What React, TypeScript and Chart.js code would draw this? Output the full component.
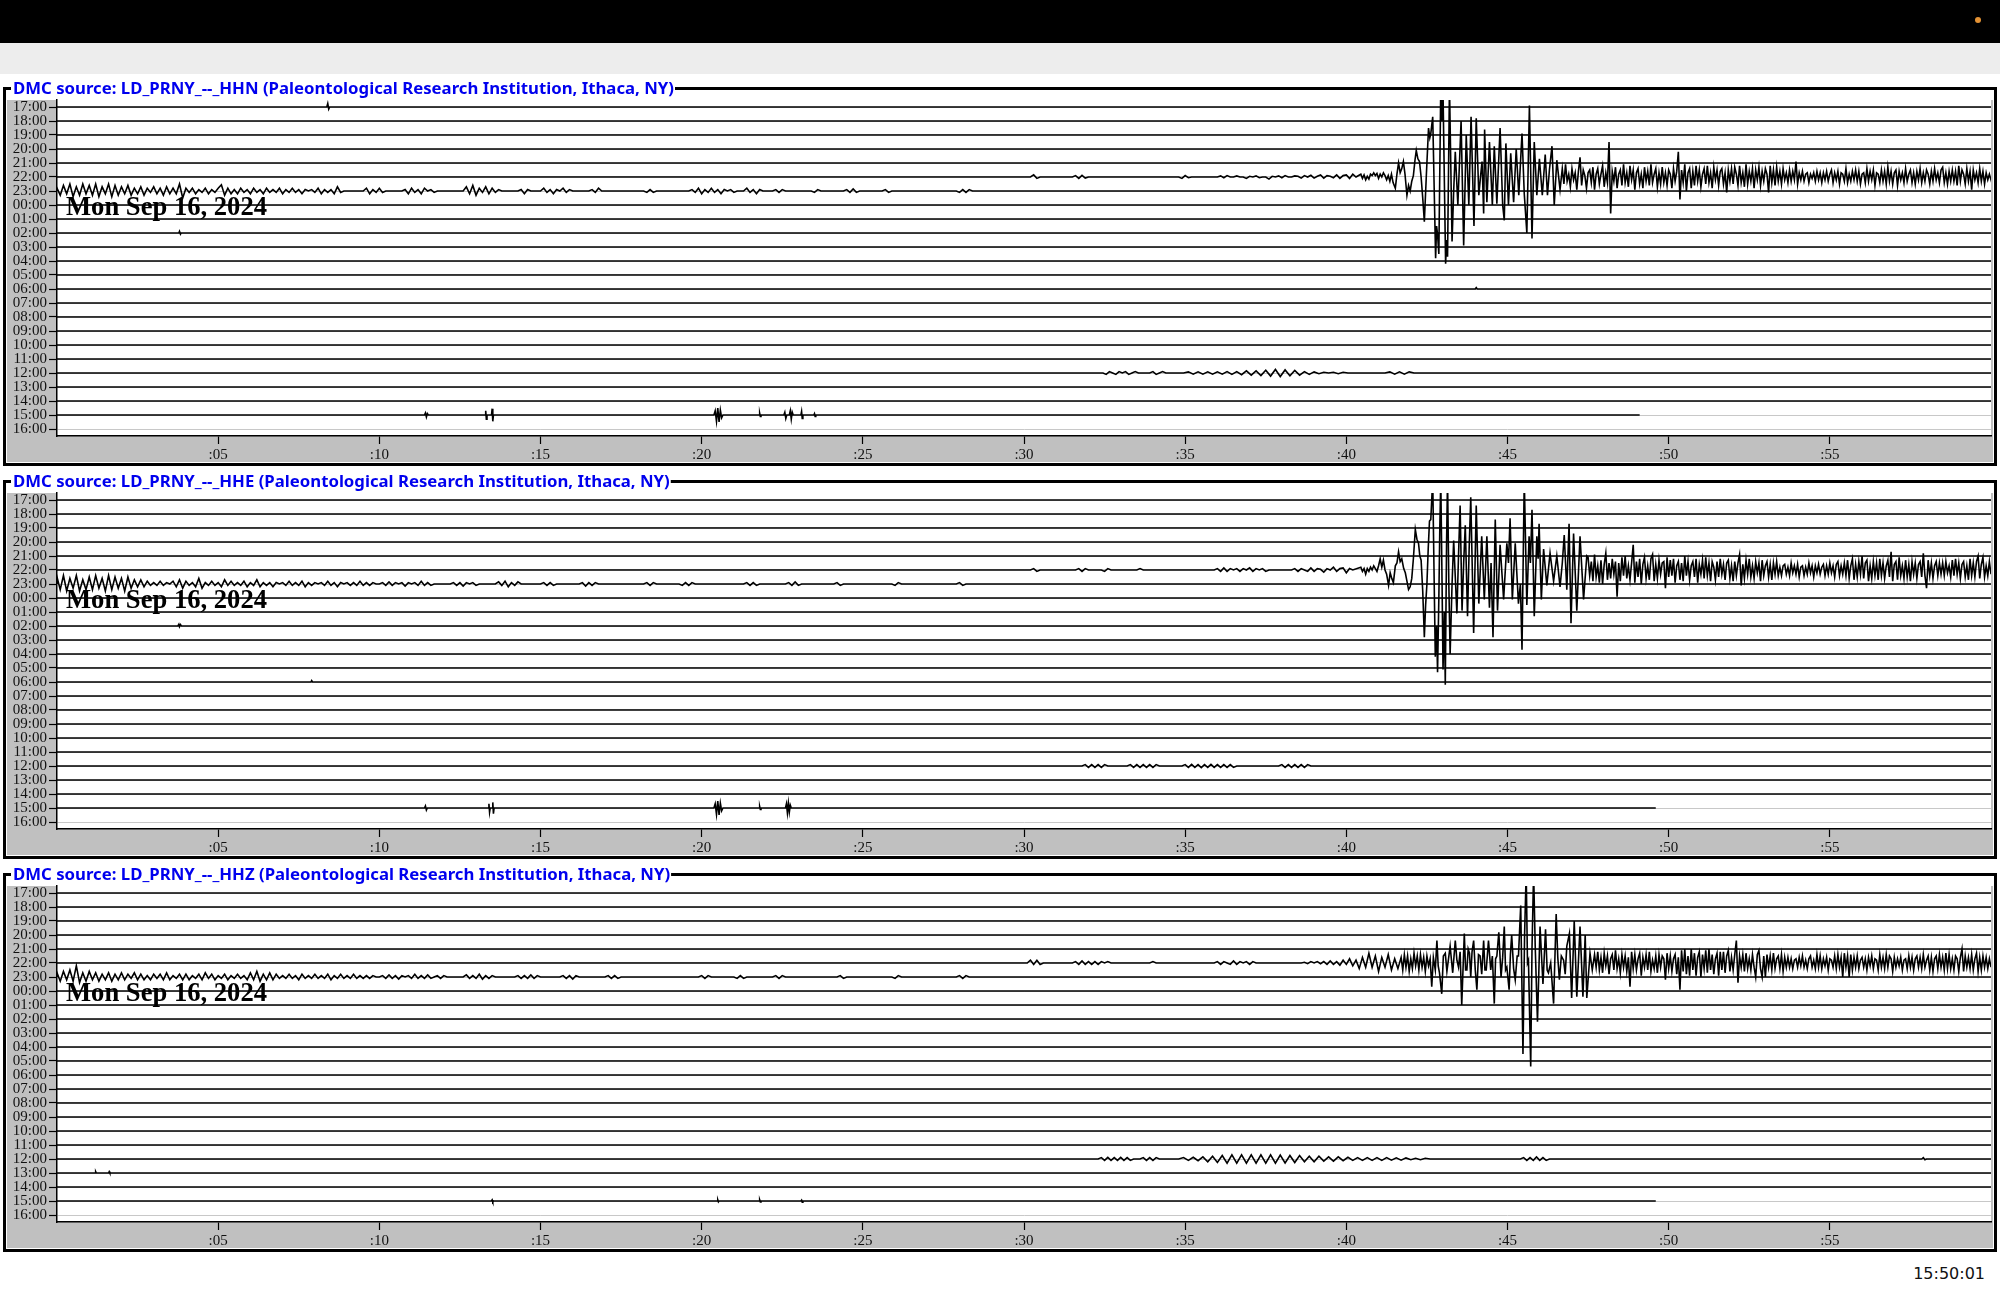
import React, { useEffect, useRef } from 'react';
import { Chart, registerables } from 'chart.js';

Chart.register(...registerables);

type Seg = { t0: number; dt?: number; v: number[] };
type Pair = [number, number];

// ---------- labels ----------
const HOUR_LABELS = ['17:00', '18:00', '19:00', '20:00', '21:00', '22:00', '23:00', '00:00', '01:00', '02:00', '03:00', '04:00',
  '05:00', '06:00', '07:00', '08:00', '09:00', '10:00', '11:00', '12:00', '13:00', '14:00', '15:00', '16:00'];
const MINUTE_TICKS = [5, 10, 15, 20, 25, 30, 35, 40, 45, 50, 55];
const CHANNELS = ['HHN', 'HHE', 'HHZ'];
const STATION = 'LD_PRNY_--_';
const SITE = 'Paleontological Research Institution, Ithaca, NY';
const DATE_TEXT = 'Mon Sep 16, 2024';
const CLOCK_TEXT = '15:50:01';
const LAST_ROW_END = [49.1, 49.6, 49.6]; // minute where the 15:00 trace stops
const NO_DATA_ROW = 23; // 16:00 row holds no data yet
const CODA_DT = 0.05;

// ---------- HHN ----------
const HHN_R23_NOISE: number[] = [0.2, -0.3, 0.4, -0.2, 0.5, -0.4, 0.3, -0.3, 0.5, -0.2,
  0.4, -0.3, 0.5, -0.4, 0.3, -0.2, 0.5, -0.4, 0.4, -0.3,
  0.3, -0.2, 0.4, -0.3, 0.2, -0.2, 0.3, -0.3, 0.2, -0.1,
  0.3, -0.2, 0.2, -0.3, 0.3, -0.2, 0.2, -0.2, 0.5, -0.5,
  0.2, -0.1, 0.2, -0.2, 0.1, -0.1, 0.2, -0.2, 0.1, -0.1,
  0.2, 0.45, -0.3, 0.2, -0.2, 0.1, -0.2, 0.2, -0.1, 0.1,
  -0.2, 0.2, -0.1, 0.1, -0.2, 0.2, -0.1, 0.1, -0.1, 0.2,
  -0.2, 0.1, -0.1, 0.2, -0.1, 0.1, -0.2, 0.1, 0, 0.1,
  -0.1, 0.2, -0.2, 0.1, -0.1, 0.1, -0.2, 0.3, -0.1, 0];
const HHN_R23_CLUSTERS: Seg[] = [
  { t0: 9.5, v: [0, 0.2, -0.2, 0.1, -0.1, 0.2, -0.1, 0] },
  { t0: 10.7, v: [0, 0.1, -0.2, 0.2, -0.1, 0.1, -0.2, 0.2, 0, 0.1, -0.1, 0] },
  { t0: 12.6, v: [0, 0.3, -0.2, 0.4, -0.3, 0.2, -0.1, 0.3, -0.2, 0.2, -0.1, 0.1, 0] },
  { t0: 14.3, v: [0, 0.1, -0.2, 0.1, 0] },
  { t0: 15.0, v: [0, 0.2, -0.1, 0.1, -0.2, 0.1, 0, 0.2, -0.1, 0.1, 0] },
  { t0: 16.5, v: [0, 0.1, -0.1, 0.2, 0] },
  { t0: 18.2, v: [0, -0.1, 0.1, -0.1, 0] },
  { t0: 19.6, v: [0, 0.1, -0.1, 0.2, -0.2, 0.1, -0.1, 0.2, -0.1, 0.1, -0.2, 0.1, 0, 0.1, -0.1, 0] },
  { t0: 21.3, v: [0, 0.2, -0.1, 0.1, -0.2, 0.1, 0] },
  { t0: 22.2, v: [0, 0.1, -0.1, 0.1, 0] },
  { t0: 23.4, v: [0, -0.1, 0.1, 0] },
  { t0: 24.4, v: [0, 0.1, -0.1, 0.15, -0.1, 0] },
  { t0: 25.6, v: [0, 0.1, -0.1, 0] },
  { t0: 27.9, v: [0, -0.1, 0.1, -0.1, 0.1, 0] },
];
const HHN_R22_PRE: Seg[] = [
  { t0: 30.2, v: [0, 0.15, -0.1, 0] },
  { t0: 31.5, v: [0, 0.1, -0.1, 0.12, -0.08, 0] },
  { t0: 34.8, v: [0, -0.1, 0.1, -0.05, 0] },
  { t0: 36.0, v: [0, 0.08, -0.05, 0.1, 0, 0, 0.08, 0, 0, -0.1, 0.05, 0, 0.08, -0.05, 0, 0, -0.15, 0.05, 0, 0.08, -0.05, 0.1, 0,
    0, 0.08, 0.05, -0.08, 0.1, 0, 0.12, -0.08, 0.05, 0.15, -0.08, 0.1, 0.05, -0.05, 0.15, -0.1, 0.1, 0.15, -0.1, 0.2, 0] },
];
const HHN_R22_QUAKE: Pair[] = [[40.45, 0.2], [40.5, -0.1], [40.55, 0.15], [40.6, -0.2], [40.65, 0.05], [40.7, -0.15], [40.75, 0.2],
  [40.8, 0.1], [40.85, 0.3], [40.9, 0.1], [40.95, 0.25], [41.0, -0.1], [41.05, 0.2], [41.1, 0], [41.15, 0.3], [41.2, 0.1],
  [41.25, -0.2], [41.3, 0.1], [41.35, -0.3], [41.4, 0.2], [41.45, -0.4], [41.52, -0.8], [41.57, 0.2], [41.62, 1.0], [41.67, 0.3],
  [41.72, 0.6], [41.77, 1.1], [41.82, 0.2], [41.88, -1.3], [41.93, -0.6], [41.98, -1.0], [42.03, -0.3], [42.08, 0.1], [42.13, 1.2],
  [42.17, 1.9], [42.22, 1.3], [42.27, 1.1], [42.32, 0], [42.37, -1.5], [42.42, -3.2], [42.48, 0], [42.55, 3.5], [42.59, 2.8],
  [42.62, 3.1], [42.68, 4.3], [42.77, -5.8], [42.8, -3.5], [42.83, -4.1], [42.87, -5.5], [42.93, 6.5], [42.96, 4.0], [43.0, 6.0],
  [43.08, -6.2], [43.11, -4.5], [43.14, -5.7], [43.2, 6.5], [43.28, -4.6], [43.33, -1.0], [43.38, 1.8], [43.46, -2.0], [43.56, 4.0],
  [43.64, -4.9], [43.72, 3.0], [43.8, -2.0], [43.87, 4.3], [43.96, -3.5], [44.03, 4.2], [44.11, -1.3], [44.17, 0.2], [44.21, 1.1],
  [44.26, -2.6], [44.29, 3.4], [44.36, -1.8], [44.44, 2.5], [44.53, -2.0], [44.59, 2.2], [44.67, -1.9], [44.77, 3.5], [44.85, -2.0],
  [44.9, -3.1], [44.95, 2.4], [45.03, -2.0], [45.1, 1.7], [45.19, -1.8], [45.27, 2.0], [45.35, -1.3], [45.45, 3.1], [45.52, -1.2],
  [45.6, -4.0], [45.68, 5.1], [45.76, -4.4], [45.83, 2.5], [45.91, -1.3], [45.99, 1.3], [46.08, -1.3], [46.17, 1.6], [46.24, -1.3],
  [46.3, 0.5], [46.38, 2.2], [46.45, -2.0], [46.53, 1.2], [46.63, -0.9], [46.7, 0.6], [46.75, -0.5]];
const HHN_R22_CODA: number[] = [
  0.9, -0.3, 0.2, -0.7, 0.6, -0.2, 0.3, -0.9, 0.4, 1.4, -0.6, 0.5, 0.1, -0.8, 0.3, 0.5, -0.4, 0.7, -0.9, 0.2,
  0.6, -0.5, 0.2, 0.8, -0.7, 0.3, -0.4, 2.5, -2.6, 0.4, -0.3, 0.7, -0.8, 0.2, 0.5, -0.6, 0.9, -0.4, 0.3, -0.7,
  0.8, -0.2, 0.5, -0.9, 0.3, 0.6, -0.5, 0.2, -0.8, 0.7, -0.3, 0.4, -0.6, 0.9, -0.4, 0.2, 0.6, -0.7, 0.3, -0.5,
  0.7, -0.4, 0.3, -0.6, 0.5, 0.2, -0.8, 0.6, -0.3, 0.4, 1.8, -1.6, 0.5, -0.4, 0.9, -1.0, 0.3, 0.6, -0.8, 0.4,
  -0.6, 0.8, -0.3, 0.5, -0.7, 0.2, 0.6, -0.5, 0.8, -0.4, 0.3, -0.8, 0.7, -0.2, 0.5, -0.6, 0.4, 0.6, -0.5, 0.3,
  -1.1, 0.5, -0.3, 0.6, -0.5, 0.7, 0.2, -0.6, 0.8, -0.4, 0.3, -0.7, 0.9, -0.5, 0.4, -0.3, 0.6, -0.8, 0.5, -0.2,
  0.7, -0.6, 0.4, -0.3, 0.6, 0.2, -1.1, 0.8, -0.4, 0.5, -0.6, 0.7, -0.3, 0.4, -0.5, 0.6, -0.2, 0.3, -0.4, 0.5,
  -0.3, 0.4, -0.2, 1.1, -0.5, 0.3, -0.2, 0.4, -0.3, 0.2, 0.3, -0.4, 0.2, -0.1, 0.3, -0.3, 0.4, -0.2, 0.3, -0.4,
  0.3, -0.2, 0.4, -0.3, 0.2, 0.5, -0.4, 0.3, -0.2, 0.4, -0.5, 0.3, 0.2, -0.3, 0.6, -0.4, 0.2, -0.3, 0.4, -0.2,
  0.5, -0.3, 0.4, -0.5, 0.2, 0.3, -0.4, 0.6, -0.3, 0.4, -0.2, 0.5, -0.6, 0.3, 0.2, -0.4, 0.5, -0.3, 0.4, -0.5,
  0.7, -0.3, 0.4, -0.5, 0.3, 0.5, -0.6, 0.4, -0.2, 0.3, -0.4, 0.6, -0.3, 0.2, 0.5, -0.4, 0.3, -0.5, 0.4, -0.2,
  0.6, -0.4, 0.3, -0.3, 0.5, 0.2, -0.5, 0.4, -0.3, 0.6, -0.2, 0.3, -0.4, 0.5, 0.7, -0.4, 0.3, -0.5, 0.4, -0.3,
  0.5, -0.3, 0.4, -0.6, 0.8, -0.3, 0.5, 0.2, -0.5, 0.6, -0.3, 0.4, -0.9, 0.5, -0.2, 0.3, -0.4, 0.6, -0.3, 0.4,
  -0.5, 0.3, -0.2, 0.2, -0.2];
const HHN_R12_WIGGLE: Seg[] = [
  { t0: 32.45, v: [0, -0.1, 0.1, 0, -0.1, 0.1, 0, 0.1, -0.1, 0, 0.1, 0] },
  { t0: 33.9, v: [0, 0.1, -0.1, 0, 0.1, 0] },
  { t0: 34.95, dt: 0.15, v: [0, 0.08, -0.08, 0.08, -0.08, 0.08, -0.08, 0.08, -0.08, 0.1, -0.1, 0.1, -0.12, 0.15, -0.15, 0.15,
    -0.18, 0.2, -0.22, 0.25, -0.25, 0.22, -0.2, 0.18, -0.15, 0.1, -0.1, 0.08, -0.05, 0.05, 0, 0.05, -0.05, 0.05, 0, 0] },
  { t0: 41.2, dt: 0.15, v: [0, 0.08, -0.08, 0.08, -0.08, 0.08, 0] },
];
const HHN_BLIPS_R0: Pair[] = [[8.37, 0], [8.4, 0.25], [8.43, -0.15], [8.46, 0]];
const HHN_BLIPS_R9: Pair[] = [[3.78, 0], [3.8, 0.12], [3.83, -0.08], [3.85, 0]];
const HHN_BLIPS_R13: Pair[] = [[44.0, 0], [44.03, 0.1], [44.06, 0]];
const HHN_BLIPS_R15: Pair[] = [[11.4, 0], [11.43, 0.15], [11.46, -0.15], [11.49, 0.1], [11.52, 0],
  [13.28, 0], [13.3, 0.3], [13.32, -0.3], [13.34, 0], [13.48, 0], [13.5, 0.45], [13.52, -0.45], [13.54, 0],
  [20.38, 0], [20.42, 0.3], [20.46, -0.45], [20.5, 0.5], [20.54, -0.5], [20.58, 0.35], [20.62, -0.2], [20.66, 0],
  [21.78, 0], [21.8, 0.12], [21.82, -0.1], [21.84, 0], [22.55, 0], [22.58, 0.2], [22.61, -0.25], [22.64, 0],
  [22.72, 0], [22.75, 0.3], [22.78, -0.3], [22.81, 0.2], [22.84, 0], [23.08, 0], [23.1, 0.25], [23.12, -0.25], [23.14, 0],
  [23.48, 0], [23.5, 0.1], [23.52, -0.1], [23.54, 0]];

// ---------- HHE ----------
const HHE_R23_NOISE: number[] = [0.5, -0.4, 0.6, -0.5, 0.4, -0.3, 0.6, -0.5, 0.3, -0.4,
  0.5, -0.4, 0.6, -0.3, 0.4, -0.5, 0.6, -0.4, 0.5, -0.3,
  0.4, -0.5, 0.5, -0.3, 0.3, -0.2, 0.3, -0.2, 0.2, -0.1,
  0.1, -0.1, 0.2, -0.1, 0.1, 0, 0.2, -0.2, 0.3, -0.3,
  0.2, -0.1, 0.1, -0.2, 0.4, -0.3, 0.1, -0.1, 0.2, -0.1,
  0.1, -0.2, 0.3, -0.1, 0.2, -0.1, 0.1, -0.1, 0.2, -0.2,
  0.1, -0.1, 0.3, -0.2, 0.1, -0.1, 0.1, -0.2, 0.1, 0,
  0.1, -0.1, 0.2, -0.1, 0.1, -0.1, 0.2, -0.2, 0.1, -0.1,
  0.1, 0, 0.1, -0.1, 0.2, -0.1, 0.1, -0.2, 0.1, 0,
  0.1, -0.1, 0.1, -0.1, 0.2, -0.1, 0.1, -0.1, 0.1, 0];
const HHE_R23_CLUSTERS: Seg[] = [
  { t0: 10.0, v: [0, 0.1, -0.1, 0.15, -0.1, 0.1, 0, 0.1, -0.15, 0.1, 0, 0.1, -0.1, 0.2, -0.1, 0.1, -0.1, 0] },
  { t0: 12.2, v: [0, 0.1, -0.1, 0.1, -0.15, 0.1, 0, 0.1, -0.1, 0] },
  { t0: 13.6, v: [0, 0.15, -0.1, 0.2, -0.2, 0.1, -0.1, 0.15, 0] },
  { t0: 15.0, v: [0, 0.1, -0.1, 0.1, -0.1, 0] },
  { t0: 16.2, v: [0, 0.1, -0.15, 0.1, -0.1, 0.1, 0] },
  { t0: 18.2, v: [0, 0.1, -0.1, 0.1, 0] },
  { t0: 19.3, v: [0, -0.1, 0.1, -0.1, 0.1, 0] },
  { t0: 21.3, v: [0, 0.1, -0.1, 0.1, -0.1, 0] },
  { t0: 22.6, v: [0, 0.1, -0.1, 0.15, -0.1, 0] },
  { t0: 24.1, v: [0, 0.1, -0.1, 0] },
  { t0: 25.9, v: [0, -0.1, 0.1, 0] },
  { t0: 27.9, v: [0, 0.1, -0.1, 0] },
];
const HHE_R22_PRE: Seg[] = [
  { t0: 30.2, v: [0, 0.1, -0.1, 0] },
  { t0: 31.6, v: [0, 0.1, -0.1, 0.1, 0] },
  { t0: 32.4, v: [0, -0.1, 0.1, 0] },
  { t0: 33.5, v: [0, 0.1, 0] },
  { t0: 35.9, v: [0, 0.1, -0.1, 0.15, -0.1, 0.1, 0, 0.1, -0.1, 0.1, 0, 0.15, -0.1, 0.1, 0, 0.1, -0.1, 0] },
  { t0: 38.3, v: [0, 0.1, -0.1, 0.1, 0, -0.1, 0.15, -0.1, 0.1, 0.05, -0.15, 0.1, 0, 0.2, -0.1, 0.1, 0.15, -0.2, 0.1, 0] },
];
const HHE_R22_QUAKE: Pair[] = [[40.45, 0.2], [40.5, -0.1], [40.55, 0.1], [40.6, -0.3], [40.65, 0.1], [40.7, -0.1], [40.75, 0.2],
  [40.8, 0], [40.85, 0.3], [40.9, 0.1], [40.95, -0.1], [41.0, 0.3], [41.05, 0.8], [41.1, 0.2], [41.15, 0.7], [41.2, 0],
  [41.25, -0.3], [41.31, -1.1], [41.36, -0.2], [41.41, -0.6], [41.46, -0.9], [41.52, 0.3], [41.57, 0.5], [41.62, 1.3],
  [41.67, 0.6], [41.72, 0.8], [41.78, 0.1], [41.83, -0.2], [41.88, -0.8], [41.93, -1.4], [41.98, -1.2], [42.03, -0.6],
  [42.08, 0.8], [42.14, 2.9], [42.19, 2.2], [42.24, 1.9], [42.28, 1.0], [42.32, 0.7], [42.37, -1.5], [42.42, -4.8],
  [42.46, -2.5], [42.5, -1.0], [42.54, 1.5], [42.58, 3.5], [42.62, 3.6], [42.68, 6.5], [42.72, 0], [42.76, -6.2],
  [42.8, -4.0], [42.83, -7.3], [42.87, -2.0], [42.9, 3.0], [42.93, 6.5], [42.97, -1.0], [43.0, -7.1], [43.04, -3.0],
  [43.07, -8.2], [43.11, 2.0], [43.14, 6.5], [43.18, -1.0], [43.22, -6.0], [43.28, -1.0], [43.33, 2.1], [43.38, -0.5],
  [43.43, -3.1], [43.48, 1.0], [43.53, 4.6], [43.59, -2.9], [43.64, 0.5], [43.69, 3.2], [43.76, -3.3], [43.81, 1.5],
  [43.86, 5.2], [43.95, -4.5], [44.03, 4.6], [44.11, -2.4], [44.2, 2.4], [44.28, -2.1], [44.36, 2.4], [44.44, -2.7],
  [44.49, 0.5], [44.55, -4.8], [44.62, 3.6], [44.69, -2.9], [44.77, 1.8], [44.88, -2.1], [44.98, 1.9], [45.03, 0.5],
  [45.08, 3.7], [45.15, -2.1], [45.24, 1.9], [45.34, -2.4], [45.4, -1.0], [45.45, -5.7], [45.52, 6.5], [45.6, -2.5],
  [45.67, 2.4], [45.71, 0.5], [45.76, 4.3], [45.83, -3.3], [45.91, 2.4], [45.95, 0.8], [45.98, 3.3], [46.05, -2.1],
  [46.12, 1.5], [46.22, -1.1], [46.32, 1.2], [46.43, -0.8], [46.53, 1.0], [46.63, -1.2], [46.7, 0.5], [46.76, 2.5],
  [46.84, -1.4], [46.91, 3.3], [46.97, -3.8], [47.05, 2.6], [47.15, -2.9], [47.25, 2.4], [47.36, -2.1], [47.46, 1.0]];
const HHE_R22_CODA: number[] = [
  0.9, -0.4, 0.6, -0.8, 1.1, -0.5, 0.3, -0.9, 0.7, -1.0, 0.4, 1.2, -0.7, 0.5, -0.6, 0.8, -0.3, 0.6, -1.9, 0.5,
  -0.8, 0.9, -0.4, 1.0, -0.6, 0.3, -0.7, 0.5, 1.8, -0.9, 0.6, -0.5, 0.8, -1.0, 0.4, 0.9, -0.6, 0.3, -0.7, 0.8,
  1.1, -0.8, 0.4, -0.6, 0.7, -0.3, 0.5, 0.6, -1.3, 0.9, -0.5, 0.7, -0.4, 0.8, -0.9, 0.3, 0.6, -0.7, 0.5, -0.8,
  1.0, -0.4, 0.6, -0.7, 0.3, 0.6, -0.5, 0.8, -0.9, 0.4, -0.3, 0.7, -0.6, 0.9, -0.4, 0.5, -0.8, 0.6, 0.2, -0.7,
  0.6, -0.5, 0.8, -0.3, 0.4, -0.7, 0.5, 0.7, -0.6, 0.3, -0.8, 0.6, -0.4, 0.5, 1.1, -1.1, 0.4, -0.6, 0.7, -0.3,
  0.8, -0.5, 0.3, -0.6, 0.6, -0.2, 0.5, -0.8, 0.7, -0.4, 0.3, 0.6, -0.5, 0.4, -0.7, 0.5, -0.3, 0.6, -0.4, 0.2,
  -0.4, 0.3, 0.4, -0.3, 0.2, -0.4, 0.5, -0.2, 0.3, -0.3, 0.4, -0.5, 0.2, 0.3, -0.4, 0.2, -0.3, 0.5, -0.2, 0.3,
  -0.5, 0.3, -0.2, 0.4, -0.3, 0.2, 0.4, -0.4, 0.3, -0.3, 0.5, -0.2, 0.3, -0.5, 0.4, 0.6, -0.4, 0.3, -0.3, 0.5,
  -0.4, 0.7, -0.6, 0.3, 0.8, -0.7, 0.4, -0.5, 0.6, -0.3, 1.0, -0.6, 0.5, 0.7, -0.8, 0.3, -0.6, 0.6, -0.4, 0.5,
  -0.7, 0.8, -0.4, 0.5, -0.6, 0.3, 0.7, -0.5, 1.3, -0.8, 0.4, 0.6, -0.7, 0.9, -0.4, 0.3, -0.6, 0.7, -0.5, 0.4,
  -0.8, 0.6, -0.3, 0.5, -0.6, 0.4, 0.6, -0.5, 1.2, -0.4, -1.3, 0.7, -0.4, 0.5, -0.6, 0.3, 0.6, -0.4, 0.5, -0.3,
  0.5, -0.4, 0.6, -0.2, 0.3, -0.5, 0.7, -0.4, 0.8, -0.3, 0.5, -0.6, 0.4, 0.6, -0.5, 0.3, -0.7, 0.8, -0.4, 0.5,
  -0.5, 0.6, 1.0, -0.6, 0.4, 0.9, -0.5, 0.3, -0.4, 0.6, -0.3];
const HHE_R12_WIGGLE: Seg[] = [
  { t0: 31.8, v: [0, 0.1, -0.1, 0.1, -0.1, 0.1, -0.1, 0.1, 0] },
  { t0: 33.2, v: [0, 0.1, -0.1, 0.1, -0.1, 0.1, -0.1, 0.1, -0.1, 0.1, 0] },
  { t0: 34.9, v: [0, 0.1, -0.1, 0.12, -0.1, 0.1, -0.12, 0.1, -0.1, 0.12, -0.1, 0.1, -0.1, 0.1, -0.1, 0.1, -0.1, 0] },
  { t0: 37.9, v: [0, 0.1, -0.1, 0.1, -0.1, 0.1, -0.1, 0.1, -0.1, 0.1, 0] },
];
const HHE_BLIPS_R9: Pair[] = [[3.75, 0], [3.78, 0.12], [3.8, -0.05], [3.83, 0.1], [3.86, 0]];
const HHE_BLIPS_R13: Pair[] = [[7.88, 0], [7.9, 0.1], [7.93, 0]];
const HHE_BLIPS_R15: Pair[] = [[11.4, 0], [11.43, 0.15], [11.46, -0.15], [11.49, 0],
  [13.38, 0], [13.4, 0.3], [13.42, -0.3], [13.44, 0], [13.5, 0], [13.52, 0.4], [13.54, -0.4], [13.56, 0],
  [20.38, 0], [20.42, 0.3], [20.46, -0.45], [20.5, 0.5], [20.54, -0.5], [20.58, 0.35], [20.62, -0.2], [20.66, 0],
  [21.78, 0], [21.8, 0.1], [21.82, -0.1], [21.84, 0],
  [22.6, 0], [22.63, 0.3], [22.66, -0.35], [22.69, 0.35], [22.72, -0.3], [22.75, 0.2], [22.78, 0]];

// ---------- HHZ ----------
const HHZ_R23_NOISE: number[] = [0.3, -0.3, 0.4, -0.2, 0.5, -0.3, 0.8, -0.4, 0.3, -0.3,
  0.4, -0.2, 0.3, -0.3, 0.2, -0.2, 0.3, -0.3, 0.2, -0.2,
  0.3, -0.2, 0.2, -0.1, 0.3, -0.2, 0.2, -0.2, 0.1, -0.2,
  0.2, -0.1, 0.2, -0.2, 0.3, -0.2, 0.1, -0.1, 0.2, -0.2,
  0.2, -0.2, 0.1, -0.1, 0.2, -0.2, 0.3, -0.1, 0.2, -0.2,
  0.1, -0.1, 0.2, -0.2, 0.1, -0.1, 0.2, -0.1, 0.1, -0.2,
  0.3, -0.2, 0.4, -0.3, 0.2, -0.2, 0.3, -0.2, 0.2, -0.1,
  0.1, -0.1, 0.2, -0.1, 0.1, -0.2, 0.2, -0.1, 0.1, -0.1,
  0.2, -0.1, 0.1, -0.1, 0.2, -0.2, 0.1, -0.1, 0.2, -0.1,
  0.1, -0.1, 0.2, -0.1, 0.1, -0.1, 0.1, -0.1, 0.1, 0];
const HHZ_R23_CLUSTERS: Seg[] = [
  { t0: 10.0, v: [0, 0.1, -0.1, 0.15, -0.1, 0.1, -0.15, 0.1, 0, 0.1, -0.1, 0.2, -0.1, 0.1, -0.1, 0.15, -0.1, 0, 0.1, -0.1, 0.1, 0] },
  { t0: 12.6, v: [0, 0.15, -0.1, 0.1, -0.1, 0.2, -0.15, 0.1, -0.1, 0.1, 0] },
  { t0: 14.2, v: [0, 0.1, -0.1, 0.1, -0.1, 0.15, -0.1, 0.1, 0] },
  { t0: 15.6, v: [0, 0.1, -0.1, 0.1, -0.15, 0.1, 0] },
  { t0: 17.0, v: [0, 0.1, -0.1, 0.1, -0.1, 0] },
  { t0: 19.9, v: [0, 0.1, -0.1, 0.1, 0] },
  { t0: 21.0, v: [0, -0.1, 0.1, -0.1, 0] },
  { t0: 22.2, v: [0, 0.1, -0.1, 0.1, 0] },
  { t0: 24.2, v: [0, 0.1, -0.1, 0] },
  { t0: 25.9, v: [0, -0.1, 0.1, 0] },
  { t0: 27.9, v: [0, 0.1, -0.1, 0.1, 0] },
];
const HHZ_R22_PRE: Seg[] = [
  { t0: 30.1, v: [0, 0.2, -0.1, 0.2, -0.1, 0] },
  { t0: 31.5, v: [0, 0.1, -0.1, 0.15, -0.1, 0.1, -0.1, 0.1, -0.1, 0.1, 0, 0.1, 0] },
  { t0: 33.9, v: [0, 0.1, 0] },
  { t0: 35.9, v: [0, 0.1, -0.1, 0.1, 0, -0.1, 0.15, -0.1, 0.1, 0, 0.1, -0.1, 0.1, 0] },
  { t0: 38.6, v: [0, 0.05, -0.05, 0.1, 0, 0.1, -0.05, 0.1, -0.1, 0.15, -0.1, 0.1, -0.15, 0.2, -0.1, 0.3, -0.2, 0.2, -0.4, 0.4,
    -0.3, 0.7, -0.3, 0.5, -0.6, 0.4, -0.3, 0.6, -0.5, 0.3, -0.4] },
];
const HHZ_R22_QUAKE: Pair[] = [[41.7, 0.4], [41.75, -0.5], [41.8, 0.6], [41.85, -0.3], [41.9, 0.5], [41.95, -0.6], [42.0, 0.3],
  [42.05, -0.4], [42.1, 0.7], [42.15, -0.2], [42.2, 0.5], [42.25, -0.5], [42.3, 0.6], [42.35, -0.3], [42.4, 0.4], [42.45, -0.6],
  [42.5, 0.5], [42.55, -0.2], [42.6, 0.3], [42.65, -1.7], [42.7, 0.4], [42.76, -0.5], [42.81, 1.6], [42.85, -0.2], [42.89, -0.7],
  [42.96, -2.2], [43.01, 0.5], [43.07, 0.7], [43.12, -0.6], [43.17, 0.3], [43.22, 1.2], [43.3, -0.7], [43.38, 1.6], [43.43, 0.2],
  [43.48, -0.3], [43.53, 0.8], [43.58, -3.0], [43.66, 2.1], [43.7, -0.5], [43.74, -0.5], [43.78, 1.0], [43.82, 0.7], [43.86, -1.0],
  [43.9, 0.8], [43.95, 1.6], [44.0, -0.5], [44.05, -1.9], [44.1, 0.6], [44.15, 0.5], [44.2, -0.8], [44.26, 1.6], [44.3, -0.5],
  [44.34, -0.5], [44.41, 1.6], [44.48, -0.5], [44.53, 0.5], [44.59, -2.9], [44.63, 0.3], [44.67, 0.5], [44.73, 2.2], [44.8, -1.0],
  [44.85, 0.4], [44.9, 2.6], [44.94, -0.5], [44.98, -0.3], [45.05, -1.9], [45.09, 0.6], [45.13, 2.0], [45.19, -0.4], [45.24, -1.2],
  [45.3, 0.5], [45.34, 0.5], [45.41, 4.1], [45.48, -6.5], [45.53, 2.0], [45.58, 6.5], [45.62, 0], [45.65, 0.2], [45.72, -7.4],
  [45.76, 1.0], [45.81, 6.5], [45.86, 1.2], [45.93, -4.2], [46.01, 2.6], [46.1, -1.5], [46.18, 2.4], [46.23, -0.5], [46.27, -0.7],
  [46.34, 0], [46.43, -2.9], [46.51, 3.5], [46.56, 0.4], [46.61, -1.2], [46.67, 0.5], [46.74, 0.2], [46.79, -0.8], [46.84, 1.2],
  [46.92, 2.1], [46.99, -2.5], [47.07, 3.0], [47.15, -2.4], [47.25, 2.6], [47.34, -2.4], [47.41, 2.0], [47.46, -2.5], [47.56, 0.7],
  [47.63, -0.5]];
const HHZ_R22_CODA: number[] = [
  0.6, -0.3, 0.8, -0.5, 0.4, -0.7, 0.7, -0.2, 0.5, -0.8, 0.3, 0.6, -0.5, 0.9, -0.4, 0.3, -0.7, 0.6, -0.3, 0.5,
  -0.6, 0.4, -1.7, 0.8, -0.4, 0.6, -0.5, 0.3, 0.7, -0.9, 0.4, -0.3, 0.6, -0.5, 0.8, -0.6, 0.2, -0.4, 0.5, -0.7,
  0.6, -0.3, 0.5, 0.3, -1.2, 0.7, -0.4, 0.5, -0.6, 0.3, 0.6, -0.8, 0.4, -1.9, 0.9, -0.6, 1.0, -0.8, 0.5, -0.9,
  1.0, -0.5, 0.7, -0.9, 0.4, 0.8, -1.0, 0.6, -0.4, 0.9, -0.7, 1.0, -0.5, 0.6, -0.8, 0.3, 0.7, -0.9, 0.8, -0.5,
  0.8, -0.7, 0.5, 0.9, -0.6, 0.4, -0.5, 0.6, 1.6, -1.4, 0.5, -0.3, 0.6, -0.6, 0.7, -0.4, 0.3, -0.5, 0.6, -0.3,
  -1.0, 0.6, 0.9, -0.4, -1.0, 0.5, -1.0, 0.6, -0.3, 0.5, -0.5, 0.7, -0.4, 0.3, 0.5, -0.4, 0.6, -0.6, 0.4, -0.3,
  0.4, -0.3, 0.3, -0.4, 0.2, 0.3, -0.3, 0.4, -0.2, 0.5, -0.3, 0.2, -0.4, 0.3, 0.5, -0.3, 0.2, -0.4, 0.6, -0.3,
  0.5, -0.4, 0.3, -0.2, 0.4, -0.5, 0.3, 0.2, -0.3, 0.5, -0.4, 0.6, -0.3, 0.4, -1.0, 0.7, -0.3, 0.5, -1.0, 0.6,
  -0.5, 0.4, -0.3, 0.5, -0.4, 0.2, 0.4, -0.3, 0.3, -0.5, 0.4, -0.2, 0.5, -0.4, 0.3, 0.2, -0.5, 0.6, -0.3, 0.4,
  -0.4, 0.6, -0.3, 0.5, 0.3, -0.6, 0.4, -0.3, 0.3, -0.2, 0.4, -0.5, 0.2, 0.3, -0.4, 0.5, -0.3, 0.4, -0.5, 0.3,
  0.5, -0.3, 0.4, -0.4, 0.6, -0.3, 0.2, 0.5, -0.5, 0.4, -0.6, 0.3, 0.5, -0.4, 0.6, -0.3, 0.4, -0.5, 0.7, -0.4,
  0.6, -0.4, 0.3, -0.5, 0.5, 0.3, -0.6, 0.4, 1.0, -0.6, 0.5, -0.3, 0.4, -0.4, 0.6, -0.5, 0.3, 0.7, -0.6, 0.4,
  -0.5, 0.5, -0.3, 0.4, -0.4, 0.3, -0.3];
const HHZ_R12_WIGGLE: Seg[] = [
  { t0: 32.3, v: [0, 0.1, -0.1, 0.12, -0.1, 0.1, -0.1, 0.12, -0.1, 0.1, -0.1, 0] },
  { t0: 33.6, v: [0, 0.1, -0.1, 0.1, -0.1, 0.1, 0] },
  { t0: 34.8, dt: 0.15, v: [0, 0.1, -0.1, 0.12, -0.12, 0.15, -0.2, 0.2, -0.25, 0.25, -0.3, 0.3, -0.3, 0.3, -0.3, 0.3, -0.3,
    0.3, -0.3, 0.3, -0.3, 0.28, -0.28, 0.25, -0.25, 0.25, -0.2, 0.2, -0.2, 0.2, -0.15, 0.15, -0.15, 0.15, -0.12, 0.12, -0.1,
    0.1, -0.1, 0.1, -0.1, 0.1, -0.1, 0.1, -0.08, 0.08, -0.08, 0.08, -0.05, 0.05, -0.05, 0.05, 0] },
  { t0: 45.4, v: [0, 0.1, -0.1, 0.1, -0.1, 0.15, -0.1, 0.1, -0.1, 0] },
  { t0: 57.85, dt: 0.05, v: [0, 0.1, -0.05, 0] },
];
const HHZ_BLIPS_R13: Pair[] = [[1.18, 0], [1.2, 0.1], [1.22, 0], [1.6, 0], [1.62, 0.1], [1.64, 0]];
const HHZ_BLIPS_R15: Pair[] = [[13.48, 0], [13.5, 0.08], [13.52, -0.06], [13.54, 0], [20.48, 0], [20.5, 0.08], [20.52, -0.06],
  [20.54, 0], [21.78, 0], [21.8, 0.08], [21.82, -0.06], [21.84, 0], [23.08, 0], [23.1, 0.06], [23.12, -0.08], [23.14, 0]];

// ---------- tables built from the arrays (row index: 0 = 17:00 ... 23 = 16:00) ----------
type RowData = { segs?: Seg[]; pairs?: Pair[] };
const PANEL_ROWS: Record<number, RowData>[] = [
  {
    0: { pairs: HHN_BLIPS_R0 },
    5: { segs: [...HHN_R22_PRE, { t0: 46.8, dt: CODA_DT, v: HHN_R22_CODA }], pairs: HHN_R22_QUAKE },
    6: { segs: [{ t0: 0, v: HHN_R23_NOISE }, ...HHN_R23_CLUSTERS] },
    9: { pairs: HHN_BLIPS_R9 },
    13: { pairs: HHN_BLIPS_R13 },
    19: { segs: HHN_R12_WIGGLE },
    22: { pairs: HHN_BLIPS_R15 },
  },
  {
    5: { segs: [...HHE_R22_PRE, { t0: 47.5, dt: CODA_DT, v: HHE_R22_CODA }], pairs: HHE_R22_QUAKE },
    6: { segs: [{ t0: 0, v: HHE_R23_NOISE }, ...HHE_R23_CLUSTERS] },
    9: { pairs: HHE_BLIPS_R9 },
    13: { pairs: HHE_BLIPS_R13 },
    19: { segs: HHE_R12_WIGGLE },
    22: { pairs: HHE_BLIPS_R15 },
  },
  {
    5: { segs: [...HHZ_R22_PRE, { t0: 47.7, dt: CODA_DT, v: HHZ_R22_CODA }], pairs: HHZ_R22_QUAKE },
    6: { segs: [{ t0: 0, v: HHZ_R23_NOISE }, ...HHZ_R23_CLUSTERS] },
    19: { segs: HHZ_R12_WIGGLE },
    20: { pairs: HHZ_BLIPS_R13 },
    22: { pairs: HHZ_BLIPS_R15 },
  },
];

const ROWS = HOUR_LABELS.length;
const CANVAS_W = 1994;
const CANVAS_H = 389;
const FRAME_TOP = 10;
const TITLE_FIT_WIDTH = 661;
const DATE_FIT_WIDTH = 201;

function buildRow(base: number, end: number, data: RowData | undefined) {
  const pts: { x: number; y: number }[] = [];
  (data?.segs || []).forEach((s) =>
    s.v.forEach((v, i) => pts.push({ x: +(s.t0 + i * (s.dt ?? 0.1)).toFixed(3), y: base + v }))
  );
  (data?.pairs || []).forEach(([t, v]) => pts.push({ x: t, y: base + v }));
  const inside = pts.filter((p) => p.x >= 0 && p.x <= end).sort((a, b) => a.x - b.x);
  return [{ x: 0, y: base }, ...inside, { x: end, y: base }];
}

function makePlugin(title: string) {
  return {
    id: 'heliPanel',
    beforeDraw(chart: any) {
      const { ctx, width, height, chartArea: ca } = chart;
      ctx.save();
      ctx.fillStyle = '#ffffff';
      ctx.fillRect(0, FRAME_TOP, width, height - FRAME_TOP);
      ctx.fillStyle = '#c0c0c0';
      ctx.fillRect(4, ca.top, width - 8, height - 4 - ca.top);
      ctx.fillStyle = '#ffffff';
      ctx.fillRect(ca.left, ca.top, ca.right - ca.left, ca.bottom - ca.top);
      ctx.restore();
    },
    afterDatasetsDraw(chart: any) {
      const { ctx, chartArea: ca } = chart;
      const y0 = chart.scales.y.getPixelForValue(ROWS - 1 - 7);
      ctx.save();
      ctx.font = 'bold 28px "Liberation Serif", "Times New Roman", serif';
      const w = ctx.measureText(DATE_TEXT).width;
      ctx.translate(ca.left + 9, y0 + 9.7);
      ctx.scale(DATE_FIT_WIDTH / w, 1);
      ctx.fillStyle = '#000';
      ctx.textBaseline = 'alphabetic';
      ctx.textAlign = 'left';
      ctx.fillText(DATE_TEXT, 0, 0);
      ctx.restore();
    },
    afterDraw(chart: any) {
      const { ctx, width, height } = chart;
      ctx.save();
      ctx.strokeStyle = '#000';
      ctx.lineWidth = 3;
      ctx.strokeRect(1.5, FRAME_TOP + 1.5, width - 3, height - FRAME_TOP - 3);
      ctx.font = 'bold 16px "Noto Sans", "DejaVu Sans", sans-serif';
      const ref = ctx.measureText(`DMC source: ${STATION}HHN (${SITE})`).width;
      const sx = TITLE_FIT_WIDTH / ref;
      const tw = ctx.measureText(title).width * sx;
      ctx.fillStyle = '#ffffff';
      ctx.fillRect(8, 0, tw + 3, 22);
      ctx.translate(10, 17);
      ctx.scale(sx, 1);
      ctx.fillStyle = '#0000ee';
      ctx.textBaseline = 'alphabetic';
      ctx.fillText(title, 0, 0);
      ctx.restore();
    },
  };
}

function Panel({ index, top }: { index: number; top: number }) {
  const ref = useRef<HTMLCanvasElement>(null);
  useEffect(() => {
    const rows = PANEL_ROWS[index];
    const datasets: any[] = [];
    for (let r = 0; r < ROWS; r++) {
      if (r === NO_DATA_ROW) continue;
      const end = r === 22 ? LAST_ROW_END[index] : 60;
      datasets.push({
        data: buildRow(ROWS - 1 - r, end, rows[r]),
        borderColor: '#000',
        borderWidth: 1.6,
        pointRadius: 0,
        fill: false,
        tension: 0,
      });
    }
    const tickFont = { family: '"Liberation Serif", "Times New Roman", serif', size: 15 };
    const title = `DMC source: ${STATION}${CHANNELS[index]} (${SITE})`;
    const chart = new Chart(ref.current as HTMLCanvasElement, {
      type: 'line',
      data: { datasets },
      plugins: [makePlugin(title)],
      options: {
        responsive: false,
        animation: false,
        events: [],
        layout: { padding: { left: 3, right: 6, top: 23, bottom: 0 } },
        plugins: { legend: { display: false }, tooltip: { enabled: false }, title: { display: false } },
        scales: {
          x: {
            type: 'linear',
            min: 0,
            max: 60,
            afterBuildTicks: (s: any) => { s.ticks = MINUTE_TICKS.map((v) => ({ value: v })); },
            afterFit: (s: any) => { s.height = 30; },
            ticks: {
              autoSkip: false,
              maxRotation: 0,
              padding: 2,
              color: '#111',
              font: tickFont,
              callback: (v: any) => ':' + String(v).padStart(2, '0'),
            },
            grid: { drawOnChartArea: false, tickLength: 8, tickColor: '#000', tickWidth: 1.2 },
            border: { display: true, color: '#000', width: 1.5 },
          },
          y: {
            type: 'linear',
            min: -0.5,
            max: ROWS - 0.5,
            afterBuildTicks: (s: any) => { s.ticks = HOUR_LABELS.map((_, i) => ({ value: i })); },
            afterFit: (s: any) => { s.width = 51; },
            ticks: {
              autoSkip: false,
              padding: 2,
              color: '#111',
              font: tickFont,
              callback: (v: any) => HOUR_LABELS[ROWS - 1 - Number(v)],
            },
            grid: { drawOnChartArea: true, color: '#c8c8c8', lineWidth: 1, tickLength: 8, tickColor: '#000', tickWidth: 1.2 },
            border: { display: true, color: '#000', width: 1.5 },
          },
        },
      } as any,
    });
    return () => chart.destroy();
  }, [index]);
  return (
    <canvas
      ref={ref}
      width={CANVAS_W}
      height={CANVAS_H}
      style={{ position: 'absolute', left: 3, top, width: CANVAS_W, height: CANVAS_H, display: 'block' }}
    />
  );
}

export default function App() {
  return (
    <div style={{ position: 'absolute', left: 0, top: 0, width: 2000, height: 1293, background: '#fff', overflow: 'hidden' }}>
      <div style={{ position: 'absolute', left: 0, top: 0, width: 2000, height: 43, background: '#000' }} />
      <div style={{ position: 'absolute', left: 1975, top: 17, width: 6, height: 6, borderRadius: 3, background: '#e39234' }} />
      <div style={{ position: 'absolute', left: 0, top: 43, width: 2000, height: 31, background: '#ededed' }} />
      {CHANNELS.map((c, i) => (
        <Panel key={c} index={i} top={77 + i * 393} />
      ))}
      <div
        style={{
          position: 'absolute',
          right: 15,
          top: 1266,
          font: '16px "DejaVu Sans", sans-serif',
          lineHeight: '16px',
          color: '#111',
          whiteSpace: 'nowrap',
        }}
      >
        {CLOCK_TEXT}
      </div>
    </div>
  );
}
